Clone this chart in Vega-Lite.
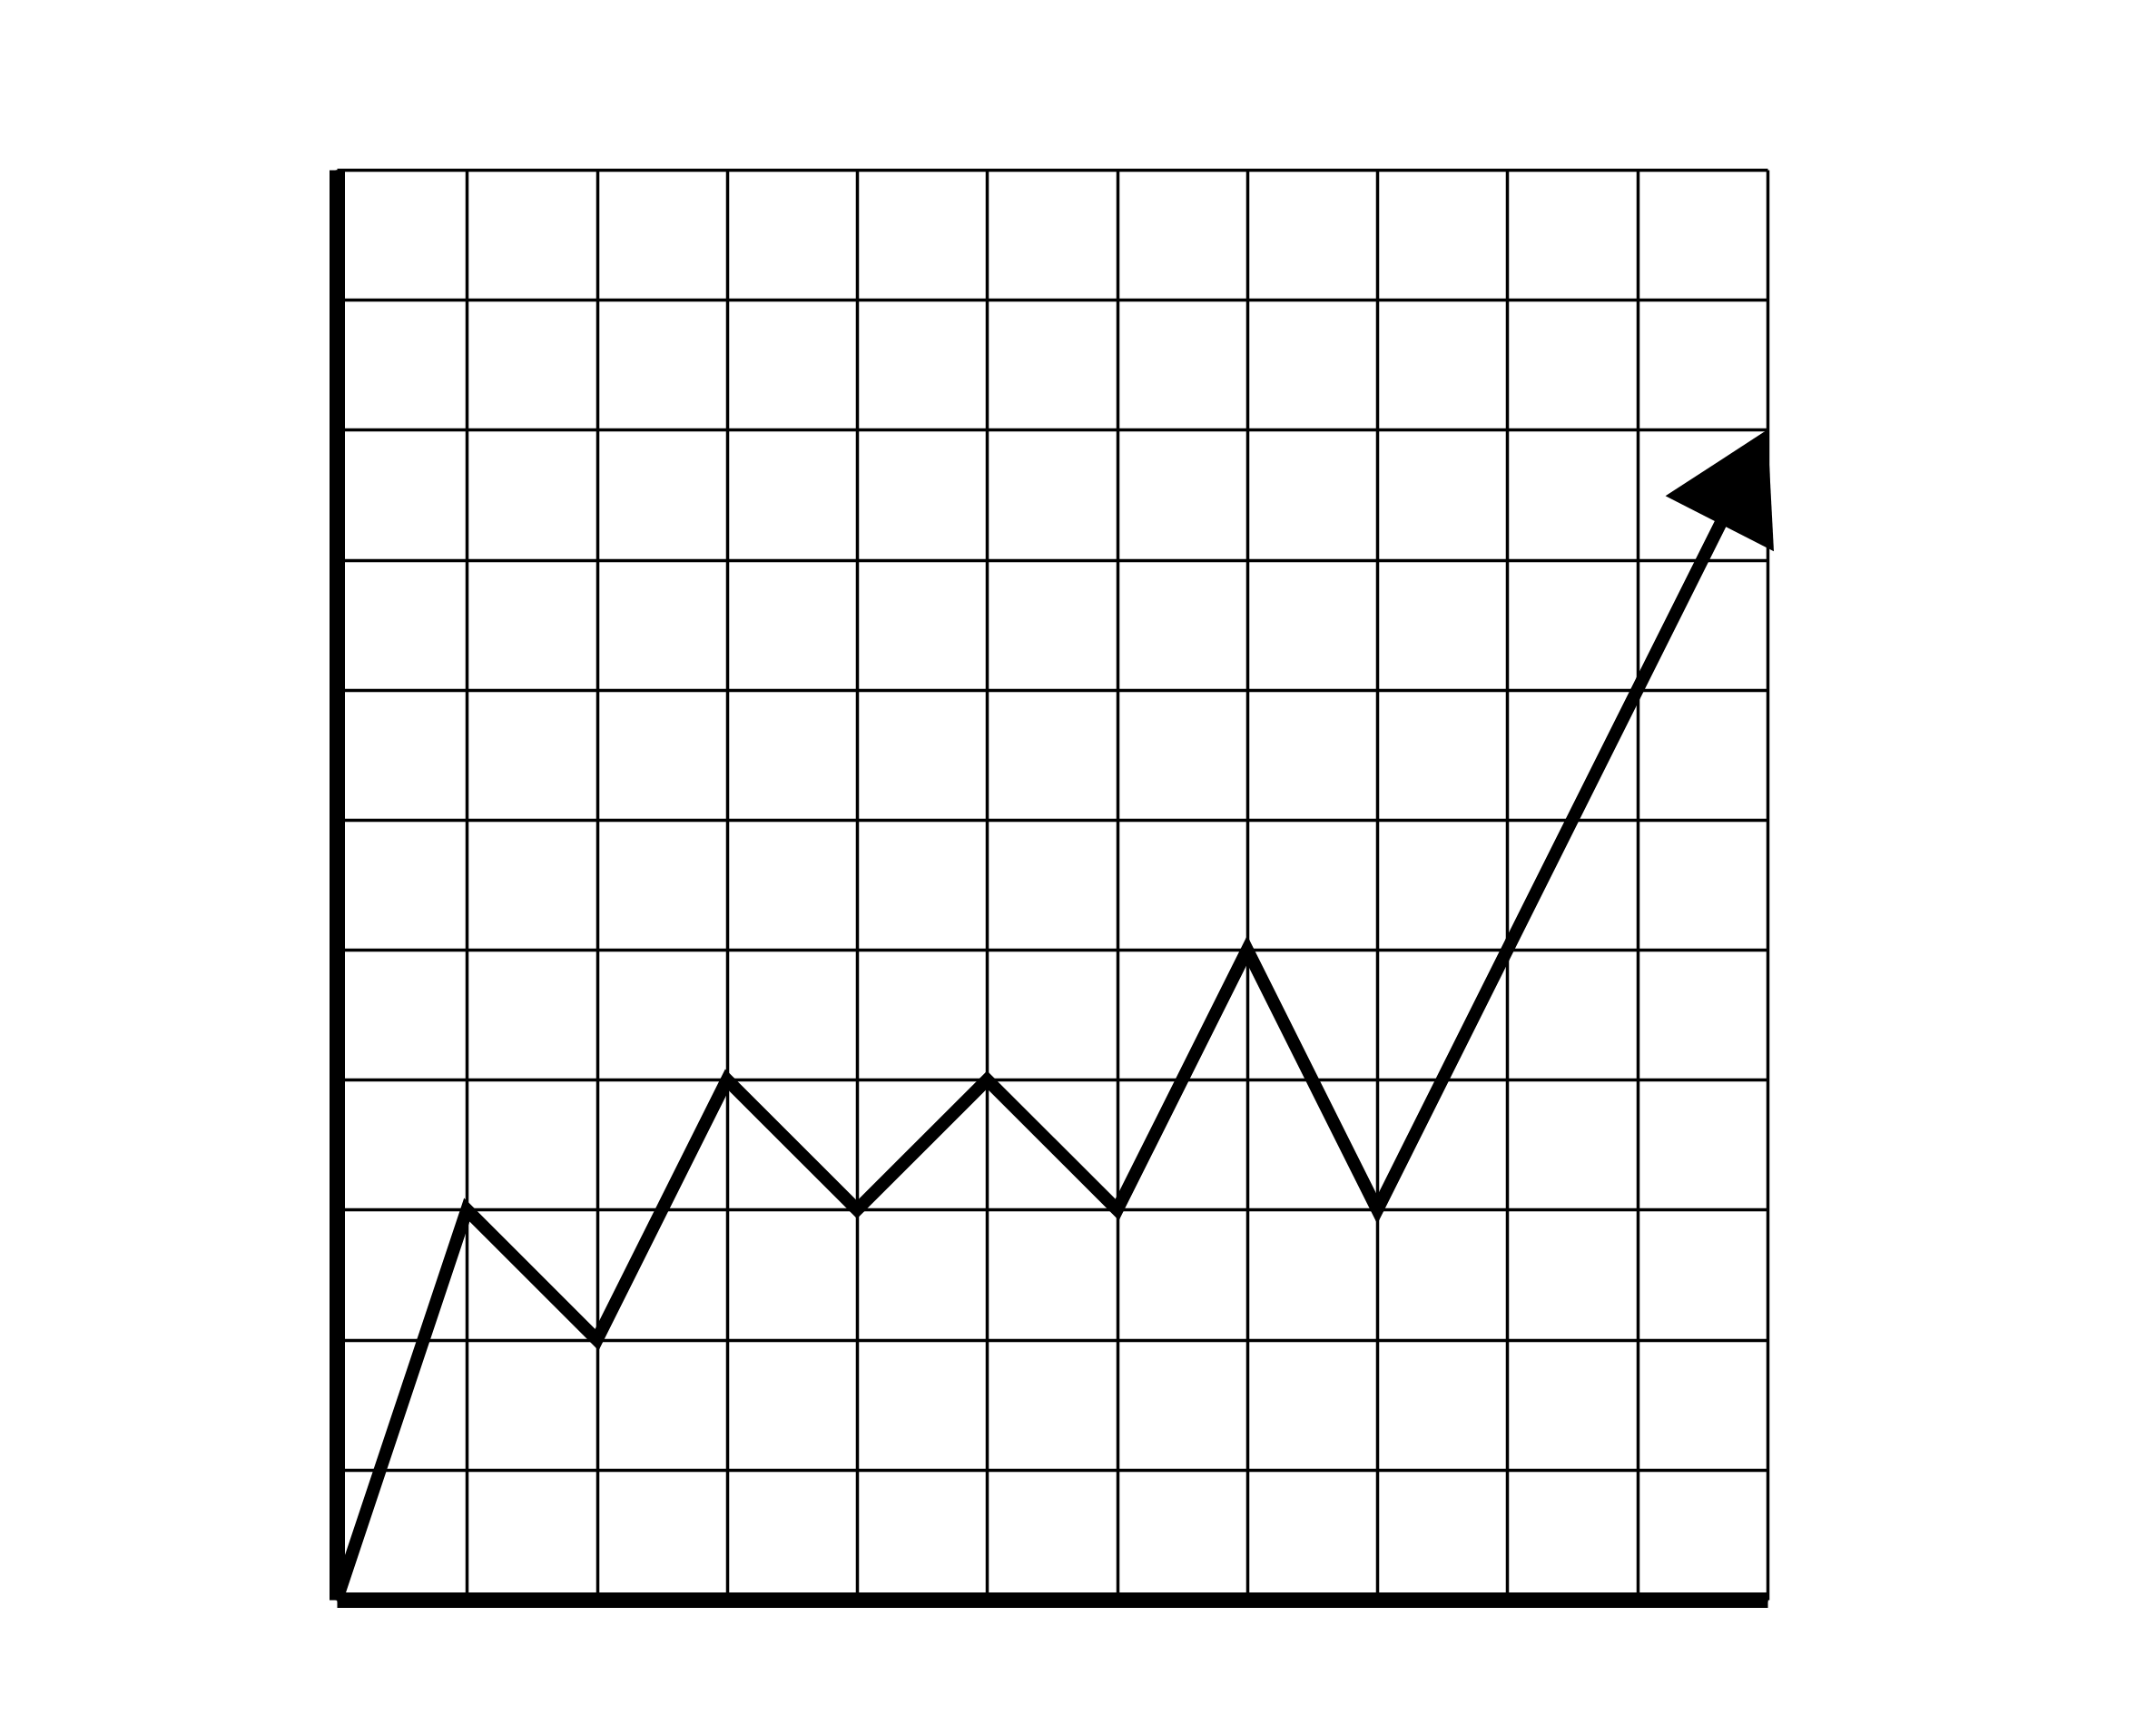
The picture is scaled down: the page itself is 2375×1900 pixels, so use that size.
{
  "$schema": "https://vega.github.io/schema/vega-lite/v6.json",
  "width": 1576,
  "height": 1575,
  "autosize": {"type": "none"},
  "padding": {"left": 371, "top": 187, "right": 428, "bottom": 138},
  "background": "white",
  "datasets": {
    "path": [
      {"x": 0, "y": 0},
      {"x": 1, "y": 3},
      {"x": 2, "y": 2},
      {"x": 3, "y": 4},
      {"x": 4, "y": 3},
      {"x": 5, "y": 4},
      {"x": 6, "y": 3},
      {"x": 7, "y": 5},
      {"x": 8, "y": 3},
      {"x": 10.8, "y": 8.6}
    ],
    "tip": [
      {"x": 11, "y": 9}
    ]
  },
  "encoding": {
    "x": {
      "field": "x",
      "type": "quantitative",
      "scale": {"domain": [0, 11], "nice": false, "zero": false},
      "axis": {
        "title": null,
        "values": [0, 1, 2, 3, 4, 5, 6, 7, 8, 9, 10, 11],
        "labels": false,
        "ticks": false,
        "domain": true,
        "domainColor": "black",
        "domainWidth": 17,
        "grid": true,
        "gridColor": "black",
        "gridWidth": 3.5,
        "gridOpacity": 1
      }
    },
    "y": {
      "field": "y",
      "type": "quantitative",
      "scale": {"domain": [0, 11], "nice": false, "zero": false},
      "axis": {
        "title": null,
        "values": [0, 1, 2, 3, 4, 5, 6, 7, 8, 9, 10, 11],
        "labels": false,
        "ticks": false,
        "domain": true,
        "domainColor": "black",
        "domainWidth": 17,
        "grid": true,
        "gridColor": "black",
        "gridWidth": 3.5,
        "gridOpacity": 1
      }
    }
  },
  "layer": [
    {
      "data": {"name": "path"},
      "mark": {
        "type": "line",
        "color": "black",
        "strokeWidth": 14,
        "strokeJoin": "miter",
        "strokeMiterLimit": 10,
        "strokeCap": "butt"
      }
    },
    {
      "data": {"name": "tip"},
      "mark": {
        "type": "point",
        "shape": "M0,0L-1,1.732L1,1.732Z",
        "size": 17956,
        "angle": 27,
        "filled": true,
        "fill": "black",
        "opacity": 1,
        "strokeWidth": 0
      }
    }
  ],
  "config": {
    "view": {"stroke": null}
  }
}
